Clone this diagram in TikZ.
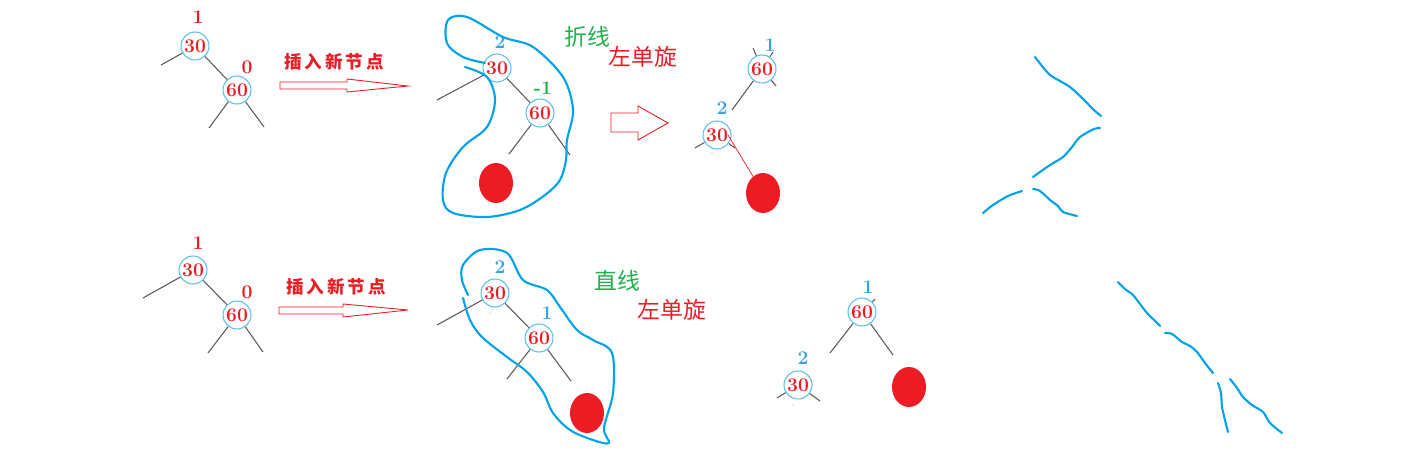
\documentclass[tikz,border=0pt]{standalone}
\usepackage{fontspec}
\newfontfamily\cjk{Noto Sans CJK SC}
\usepackage{tikz}
\usetikzlibrary{shapes.geometric}

\definecolor{pred}{HTML}{ED1C24}
\definecolor{pgreen}{HTML}{22B14C}
\definecolor{penblue}{HTML}{00A2E8}
\definecolor{keyblue}{HTML}{5BC0EB}
\definecolor{balblue}{HTML}{3AA0E0}

\begin{document}
\begin{tikzpicture}[x=0.02cm, y=-0.02cm]
    \tikzset{
        key/.style={
                circle, draw=keyblue, line width=0.6pt, fill=white,
                minimum size=0.56cm, inner sep=0pt,
                font=\bfseries\fontsize{11}{11}\selectfont, text=pred
            },
        newkey/.style={ellipse, fill=pred, minimum width=0.68cm, minimum height=0.8cm, inner sep=0pt},
        bal/.style={font=\bfseries\fontsize{11}{11}\selectfont, inner sep=0pt},
        branch/.style={draw=black!65, line width=0.6pt},
        sketch/.style={draw=penblue, line width=1.2pt, line cap=round, line join=round},
        hollow/.style={draw=pred, line width=0.5pt, fill=white},
        caption/.style={font=\cjk\fontsize{13}{13}\selectfont, inner sep=0pt},
        step label/.style={font=\cjk\bfseries\fontsize{10}{10}\selectfont, text=pred, inner sep=0pt}
    }
    \useasboundingbox (0,0) rectangle (1422,459);

    % --- top row: before insertion ---
    \node[key] (a30) at (195,46) {30};
    \node[bal, text=pred] (a30b) at (198,17) {1};
    \node[key] (a60) at (237,90) {60};
    \node[bal, text=pred] (a60b) at (247,67) {0};
    \coordinate (a30l) at (161,65);
    \coordinate (a60l) at (209,128);
    \coordinate (a60r) at (264,127);
    \draw[branch] (a30) -- (a30l);
    \draw[branch] (a30) -- (a60);
    \draw[branch] (a60) -- (a60l);
    \draw[branch] (a60) -- (a60r);

    \node[step label] (ains) at (334,62) {插\,入\,新\,节\,点};
    \draw[hollow] (280,82) -- (347,82) -- (347,79) -- (408,86) -- (347,92) -- (347,89) -- (280,89) -- cycle;

    % --- top row: after insertion (bent) ---
    \node[key] (b30) at (497,68) {30};
    \node[bal, text=balblue] (b30b) at (500,42) {2};
    \node[key] (b60) at (540,113) {60};
    \node[bal, text=pgreen] (b60b) at (543,88) {-1};
    \node[newkey] (bnew) at (496,183) {};
    \coordinate (b30l) at (437,100);
    \coordinate (b60l) at (509,154);
    \coordinate (b60r) at (570,155);
    \draw[branch] (b30) -- (b30l);
    \draw[branch] (b30) -- (b60);
    \draw[branch] (b60) -- (b60l);
    \draw[branch] (b60) -- (b60r);
    \draw[sketch] plot[smooth, tension=0.55] coordinates {
            (465,67) (487,77) (495,100) (487,127) (463,147) (446,173) (443,200)
            (453,213) (487,217) (520,210) (545,195) (560,180) (566,160) (567,140)
            (573,110) (563,77) (533,47) (503,37) (467,17) (448,20) (447,43) (463,57) (485,63)};

    \node[caption, text=pgreen] (bbent) at (587,37) {折线};
    \node[caption, text=pred] (brot) at (643,57) {左单旋};
    \draw[hollow] (611,113) -- (638,113) -- (638,106) -- (668,123) -- (638,140) -- (638,132) -- (611,132) -- cycle;

    % --- top row: intermediate ---
    \node[key] (c60) at (762,69) {60};
    \node[bal, text=balblue] (c60b) at (770,45) {1};
    \node[key] (c30) at (717,135) {30};
    \node[bal, text=balblue] (c30b) at (722,108) {2};
    \node[newkey] (cnew) at (763,193) {};
    \coordinate (c60t) at (753,48);
    \coordinate (c60u) at (773,52);
    \coordinate (c60r) at (776,86);
    \coordinate (c60l) at (732,110);
    \coordinate (c30l) at (695,148);
    \coordinate (c30r) at (735,148);
    \draw[branch] (c60) -- (c60t);
    \draw[branch] (c60) -- (c60u);
    \draw[branch] (c60) -- (c60r);
    \draw[branch] (c60) -- (c60l);
    \draw[branch] (c30) -- (c30l);
    \draw[branch] (c30) -- (c30r);
    \draw[pred, line width=0.4pt] (c30.center) ++(11,0) -- (cnew);
    \fill[magenta!50] (712,153) circle (0.7);

    % --- top row: pen strokes ---
    \draw[sketch] plot[smooth] coordinates {(1035,57) (1042,66) (1050,75) (1060,81) (1070,87) (1080,96) (1087,103) (1095,111) (1101,116)};
    \draw[sketch] plot[smooth] coordinates {(1100,128) (1094,129) (1080,137) (1072,147) (1063,157) (1050,165) (1033,177)};
    \draw[sketch] plot[smooth] coordinates {(1022,191) (1008,196) (993,205) (983,213)};
    \draw[sketch] plot[smooth] coordinates {(1033,189) (1040,191) (1050,200) (1058,206) (1063,212) (1077,216)};

    % --- bottom row: before insertion ---
    \node[key] (d30) at (193,270) {30};
    \node[bal, text=pred] (d30b) at (198,243) {1};
    \node[key] (d60) at (237,315) {60};
    \node[bal, text=pred] (d60b) at (247,292) {0};
    \coordinate (d30l) at (143,298);
    \coordinate (d60l) at (208,353);
    \coordinate (d60r) at (263,352);
    \draw[branch] (d30) -- (d30l);
    \draw[branch] (d30) -- (d60);
    \draw[branch] (d60) -- (d60l);
    \draw[branch] (d60) -- (d60r);

    \node[step label] (dins) at (336,287) {插\,入\,新\,节\,点};
    \draw[hollow] (279,307) -- (343,307) -- (343,304) -- (408,310) -- (343,317) -- (343,314) -- (279,314) -- cycle;

    % --- bottom row: after insertion (straight) ---
    \node[key] (e30) at (495,293) {30};
    \node[bal, text=balblue] (e30b) at (500,267) {2};
    \node[key] (e60) at (539,338) {60};
    \node[bal, text=balblue] (e60b) at (547,313) {1};
    \node[newkey] (enew) at (587,413) {};
    \coordinate (e30l) at (437,325);
    \coordinate (e60l) at (507,379);
    \coordinate (e60r) at (571,381);
    \draw[branch] (e30) -- (e30l);
    \draw[branch] (e30) -- (e60);
    \draw[branch] (e60) -- (e60l);
    \draw[branch] (e60) -- (e60r);
    \fill[magenta!50] (490,313) circle (0.7);
    \draw[sketch] plot[smooth, tension=0.55] coordinates {
            (463,298) (470,320) (482,337) (507,357) (527,372) (543,392) (553,413)
            (570,430) (593,440) (609,443) (604,428) (613,393) (612,353) (593,340)
            (577,330) (560,307) (547,290) (523,280) (507,253) (480,250) (463,265)
            (462,280) (468,295)};

    \node[caption, text=pgreen] (ebent) at (617,281) {直线};
    \node[caption, text=pred] (erot) at (672,310) {左单旋};

    % --- bottom row: after rotation ---
    \node[key] (f60) at (862,312) {60};
    \node[bal, text=balblue] (f60b) at (868,287) {1};
    \node[key] (f30) at (798,385) {30};
    \node[bal, text=balblue] (f30b) at (803,358) {2};
    \node[newkey] (fnew) at (909,387) {};
    \coordinate (f60t) at (875,299);
    \coordinate (f60l) at (830,353);
    \coordinate (f60r) at (893,355);
    \coordinate (f30l) at (777,398);
    \coordinate (f30r) at (820,401);
    \draw[branch] (f60) -- (f60t);
    \draw[branch] (f60) -- (f60l);
    \draw[branch] (f60) -- (f60r);
    \draw[branch] (f30) -- (f30l);
    \draw[branch] (f30) -- (f30r);
    \fill[magenta!50] (793,405) circle (0.7);

    % --- bottom row: pen strokes ---
    \draw[sketch] plot[smooth] coordinates {(1118,282) (1125,289) (1133,295) (1140,304) (1147,313) (1154,320) (1160,326)};
    \draw[sketch] plot[smooth] coordinates {(1165,333) (1172,334) (1182,342) (1190,346) (1197,352) (1205,363) (1213,373)};
    \draw[sketch] plot[smooth] coordinates {(1218,383) (1221,393) (1222,407) (1225,420) (1228,432)};
    \draw[sketch] plot[smooth] coordinates {(1230,379) (1237,388) (1243,397) (1252,405) (1263,412) (1270,423) (1282,433)};
\end{tikzpicture}
\end{document}
